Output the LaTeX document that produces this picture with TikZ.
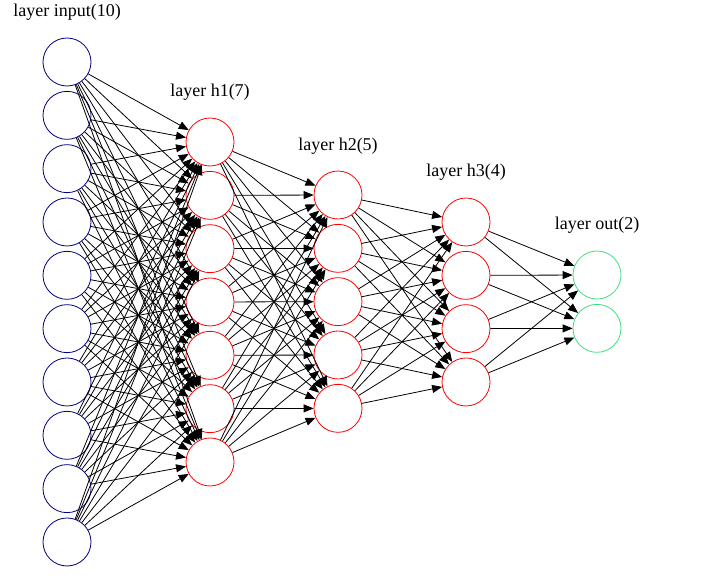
\documentclass[tikz,border=0pt]{standalone}
\usepackage{fontspec}
\setmainfont{Liberation Serif}
\usetikzlibrary{arrows.meta}
\definecolor{outg}{RGB}{64,224,128}
\begin{document}
\begin{tikzpicture}[x=1pt,y=-1pt,line width=0.8pt,
  neu/.style={circle,draw,minimum size=48pt,inner sep=0pt,fill=white},
  inn/.style={neu,draw={rgb,255:red,0;green,0;blue,128}},
  hid/.style={neu,draw=red},
  outn/.style={neu,draw=outg},
  lab/.style={font=\fontsize{18}{20}\selectfont},
  edge/.style={-{Triangle[length=10pt,width=8pt]},black}]
\useasboundingbox (0,0) rectangle (704,578);
\foreach \i in {1,...,10} \node[inn] (i\i) at (67,{62+(\i-1)*53.33}) {};
\foreach \i in {1,...,7} \node[hid] (a\i) at (210,{142+(\i-1)*53.33}) {};
\foreach \i in {1,...,5} \node[hid] (b\i) at (338,{195+(\i-1)*53.33}) {};
\foreach \i in {1,...,4} \node[hid] (c\i) at (466,{222+(\i-1)*53.33}) {};
\foreach \i in {1,2} \node[outn] (o\i) at (597,{275+(\i-1)*53.33}) {};
\node[lab] (l0) at (67,12) {layer input(10)};
\node[lab] (l1) at (210,92) {layer h1(7)};
\node[lab] (l2) at (338,146) {layer h2(5)};
\node[lab] (l3) at (466,172) {layer h3(4)};
\node[lab] (l4) at (597,225) {layer out(2)};
\foreach \i in {1,...,10}\foreach \j in {1,...,7} \draw[edge] (i\i) -- (a\j);
\foreach \i in {1,...,7}\foreach \j in {1,...,5} \draw[edge] (a\i) -- (b\j);
\foreach \i in {1,...,5}\foreach \j in {1,...,4} \draw[edge] (b\i) -- (c\j);
\foreach \i in {1,...,4}\foreach \j in {1,2} \draw[edge] (c\i) -- (o\j);
\end{tikzpicture}
\end{document}
